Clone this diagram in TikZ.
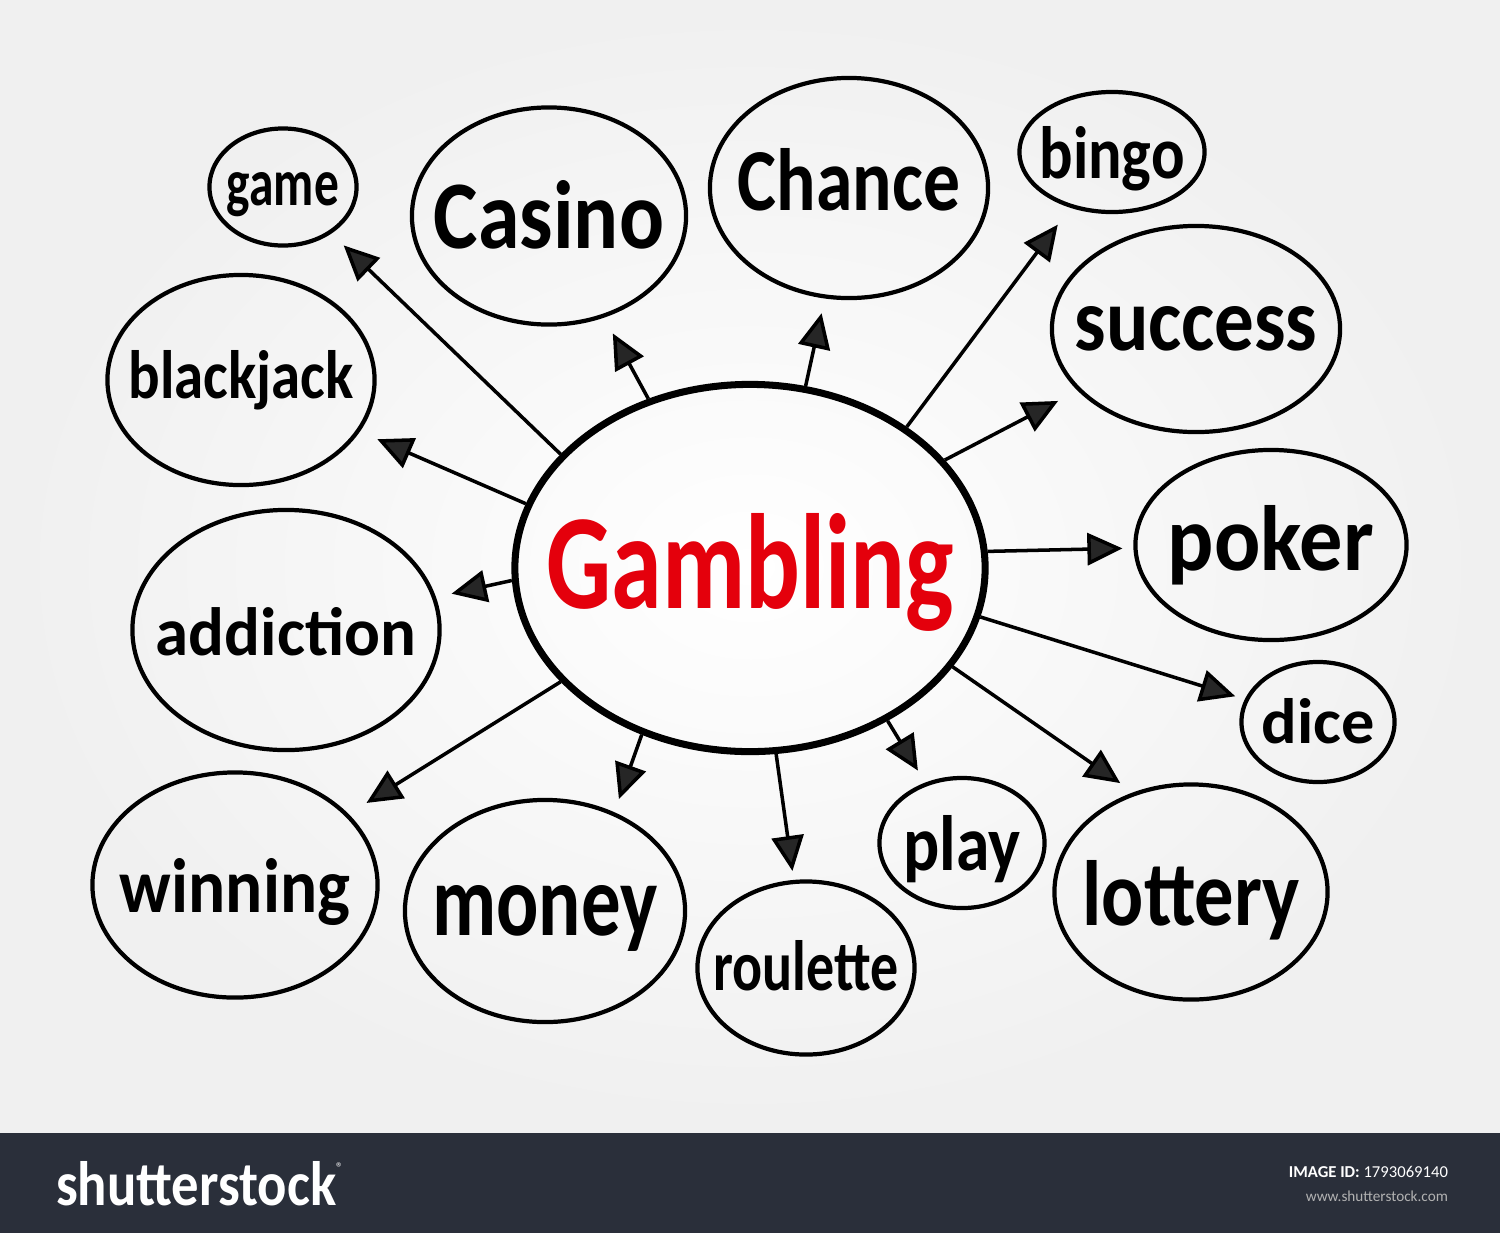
\documentclass[tikz,border=0pt]{standalone}
\usepackage{fontspec}
\setmainfont{Carlito}
\usepackage{graphicx}
\usetikzlibrary{arrows.meta,shapes.geometric,positioning}
\definecolor{gamred}{RGB}{228,0,12}
\definecolor{barbg}{RGB}{42,47,58}
% raise, width, height (cm), text
\newcommand{\hw}[4]{\makebox[0pt]{\raisebox{#1cm}[0pt][0pt]{\resizebox{#2cm}{#3cm}{\bfseries #4}}}}
\begin{document}
\begin{tikzpicture}[x=0.01cm,y=-0.01cm,semithick]
  \tikzstyle{bub}=[draw, ellipse, line width=1.2pt, inner sep=0pt]
  \tikzstyle{arr}=[draw, line width=1pt, -{Triangle[length=0.35cm,width=0.32cm,fill=black!85]}]
  \useasboundingbox (0,0) rectangle (1500,1233);
  \shade[inner color=white, outer color=black!6] (0,0) rectangle (1500,1133);
  \fill[barbg] (0,1133) rectangle (1500,1233);

  % centre
  \node[bub, minimum width=4.70cm, minimum height=3.67cm, line width=2pt, text=gamred] (G) at (750,568) {\hw{-0.40}{4.07}{0.95}{Gambling}};

  % bubbles
  \node[bub, minimum width=1.47cm, minimum height=1.17cm] (game) at (283,187) {\hw{-0.18}{1.12}{0.33}{game}};
  \node[bub, minimum width=2.74cm, minimum height=2.17cm] (casino) at (549,216) {\hw{-0.32}{2.30}{0.68}{Casino}};
  \node[bub, minimum width=2.78cm, minimum height=2.20cm] (chance) at (849,188) {\hw{-0.22}{2.22}{0.62}{Chance}};
  \node[bub, minimum width=1.85cm, minimum height=1.20cm] (bingo) at (1112,152) {\hw{-0.26}{1.45}{0.52}{bingo}};
  \node[bub, minimum width=2.88cm, minimum height=2.06cm] (success) at (1196,329) {\hw{-0.21}{2.43}{0.44}{success}};
  \node[bub, minimum width=2.67cm, minimum height=2.10cm] (blackjack) at (241,380) {\hw{-0.18}{2.25}{0.48}{blackjack}};
  \node[bub, minimum width=2.71cm, minimum height=1.90cm] (poker) at (1271,545) {\hw{-0.25}{2.06}{0.65}{poker}};
  \node[bub, minimum width=3.07cm, minimum height=2.40cm] (addiction) at (286,630) {\hw{-0.25}{2.60}{0.48}{addiction}};
  \node[bub, minimum width=1.53cm, minimum height=1.20cm] (dice) at (1318,722) {\hw{-0.21}{1.13}{0.45}{dice}};
  \node[bub, minimum width=2.85cm, minimum height=2.25cm] (winning) at (235,885) {\hw{-0.27}{2.30}{0.54}{winning}};
  \node[bub, minimum width=2.80cm, minimum height=2.22cm] (money) at (545,911) {\hw{-0.24}{2.25}{0.50}{money}};
  \node[bub, minimum width=2.17cm, minimum height=1.73cm] (roulette) at (806,968) {\hw{-0.22}{1.85}{0.50}{roulette}};
  \node[bub, minimum width=1.65cm, minimum height=1.30cm] (play) at (962,843) {\hw{-0.27}{1.17}{0.55}{play}};
  \node[bub, minimum width=2.73cm, minimum height=2.15cm] (lottery) at (1191,892) {\hw{-0.33}{2.17}{0.65}{lottery}};

  % arrows out of the centre
  \path
    (G.149) edge[arr, shorten >=0.17cm] (game)
    (G.121) edge[arr, shorten >=0.18cm] (casino)
    (G.73)  edge[arr, shorten >=0.15cm] (chance)
    (G.42)  edge[arr, shorten >=0.21cm] (bingo)
    (G.29)  edge[arr, shorten >=0.22cm] (success)
    (G.164) edge[arr, shorten >=0.19cm] (blackjack)
    (G.4)   edge[arr, shorten >=0.11cm] (poker)
    (G.183) edge[arr, shorten >=0.16cm] (addiction)
    (G.-12) edge[arr, shorten >=0.10cm] (dice)
    (G.211) edge[arr, shorten >=0.21cm] (winning)
    (G.237) edge[arr, shorten >=0.14cm] (money.55)
    (G.-82) edge[arr, shorten >=0.09cm] (roulette)
    (G.-48) edge[arr, shorten >=0.14cm] (play)
    (G.-26) edge[arr, shorten >=0.16cm] (lottery.120);

  % footer
  \node[anchor=base west, inner sep=0pt, text=white] (logo) at (55,1205) {\resizebox{2.80cm}{0.44cm}{\bfseries shutterstock}\raisebox{0.33cm}{\fontsize{4}{4}\selectfont ®}};
  \node[anchor=base east, inner sep=0pt, text=white] (imgid) at (1449,1177) {\resizebox{1.59cm}{!}{\textbf{IMAGE ID:} 1793069140}};
  \node[anchor=base east, inner sep=0pt, text=black!30] (web) at (1449,1201) {\resizebox{1.42cm}{!}{www.shutterstock.com}};
\end{tikzpicture}
\end{document}
